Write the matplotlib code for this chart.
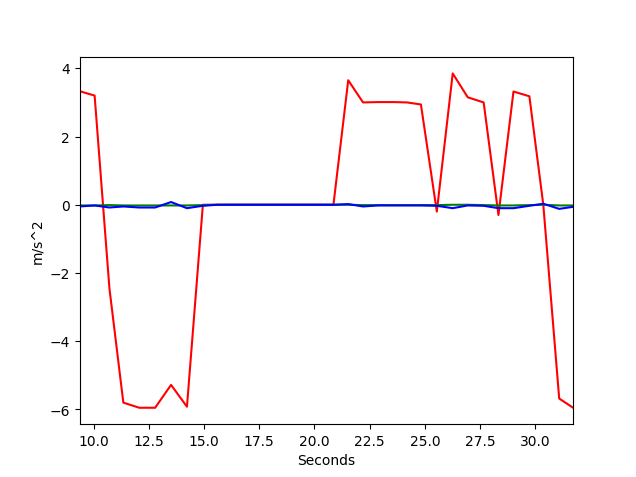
import matplotlib
matplotlib.use("Agg")
import matplotlib.pyplot as plt

t = [9.37, 10.05, 10.72, 11.35, 12.07, 12.79, 13.51, 14.23, 14.95, 15.6, 16.3, 17.0, 17.7, 18.4, 19.1, 19.8, 20.4,
     20.86, 21.53, 22.2, 22.88, 23.6, 24.19, 24.82, 25.54, 26.26, 26.94, 27.66, 28.33, 29.01, 29.73, 30.36, 31.08, 31.71]
red = [3.33, 3.2, -2.45, -5.8, -5.95, -5.95, -5.28, -5.92, 0.0, 0.0, 0.0, 0.0, 0.0, 0.0, 0.0, 0.0, 0.0,
       0.0, 3.65, 3.0, 3.01, 3.01, 3.0, 2.94, -0.2, 3.85, 3.15, 3.0, -0.3, 3.32, 3.18, 0.0, -5.68, -5.95]
green = [-0.02, -0.02, -0.01, -0.02, -0.02, -0.02, -0.02, -0.02, -0.01, 0.0, 0.0, 0.0, 0.0, 0.0, 0.0, 0.0, 0.0,
         0.0, 0.0, -0.01, -0.01, -0.01, -0.01, -0.01, -0.01, 0.0, 0.0, -0.01, -0.02, -0.02, -0.01, 0.0, -0.02, -0.02]
blue = [-0.05, -0.02, -0.08, -0.05, -0.08, -0.08, 0.08, -0.1, -0.03, 0.0, 0.0, 0.0, 0.0, 0.0, 0.0, 0.0, 0.0,
        0.0, 0.02, -0.05, -0.02, -0.02, -0.02, -0.02, -0.03, -0.1, -0.02, -0.03, -0.1, -0.1, -0.03, 0.03, -0.12, -0.06]

fig, ax = plt.subplots(figsize=(6.4, 4.8), dpi=99.5)
ax.plot(t, red, color="red")
ax.plot(t, green, color="green")
ax.plot(t, blue, color="blue")
ax.set_xlim(t[0], t[-1])
ax.set_xlabel("Seconds")
ax.set_ylabel("m/s^2")
fig.savefig("out.png")
